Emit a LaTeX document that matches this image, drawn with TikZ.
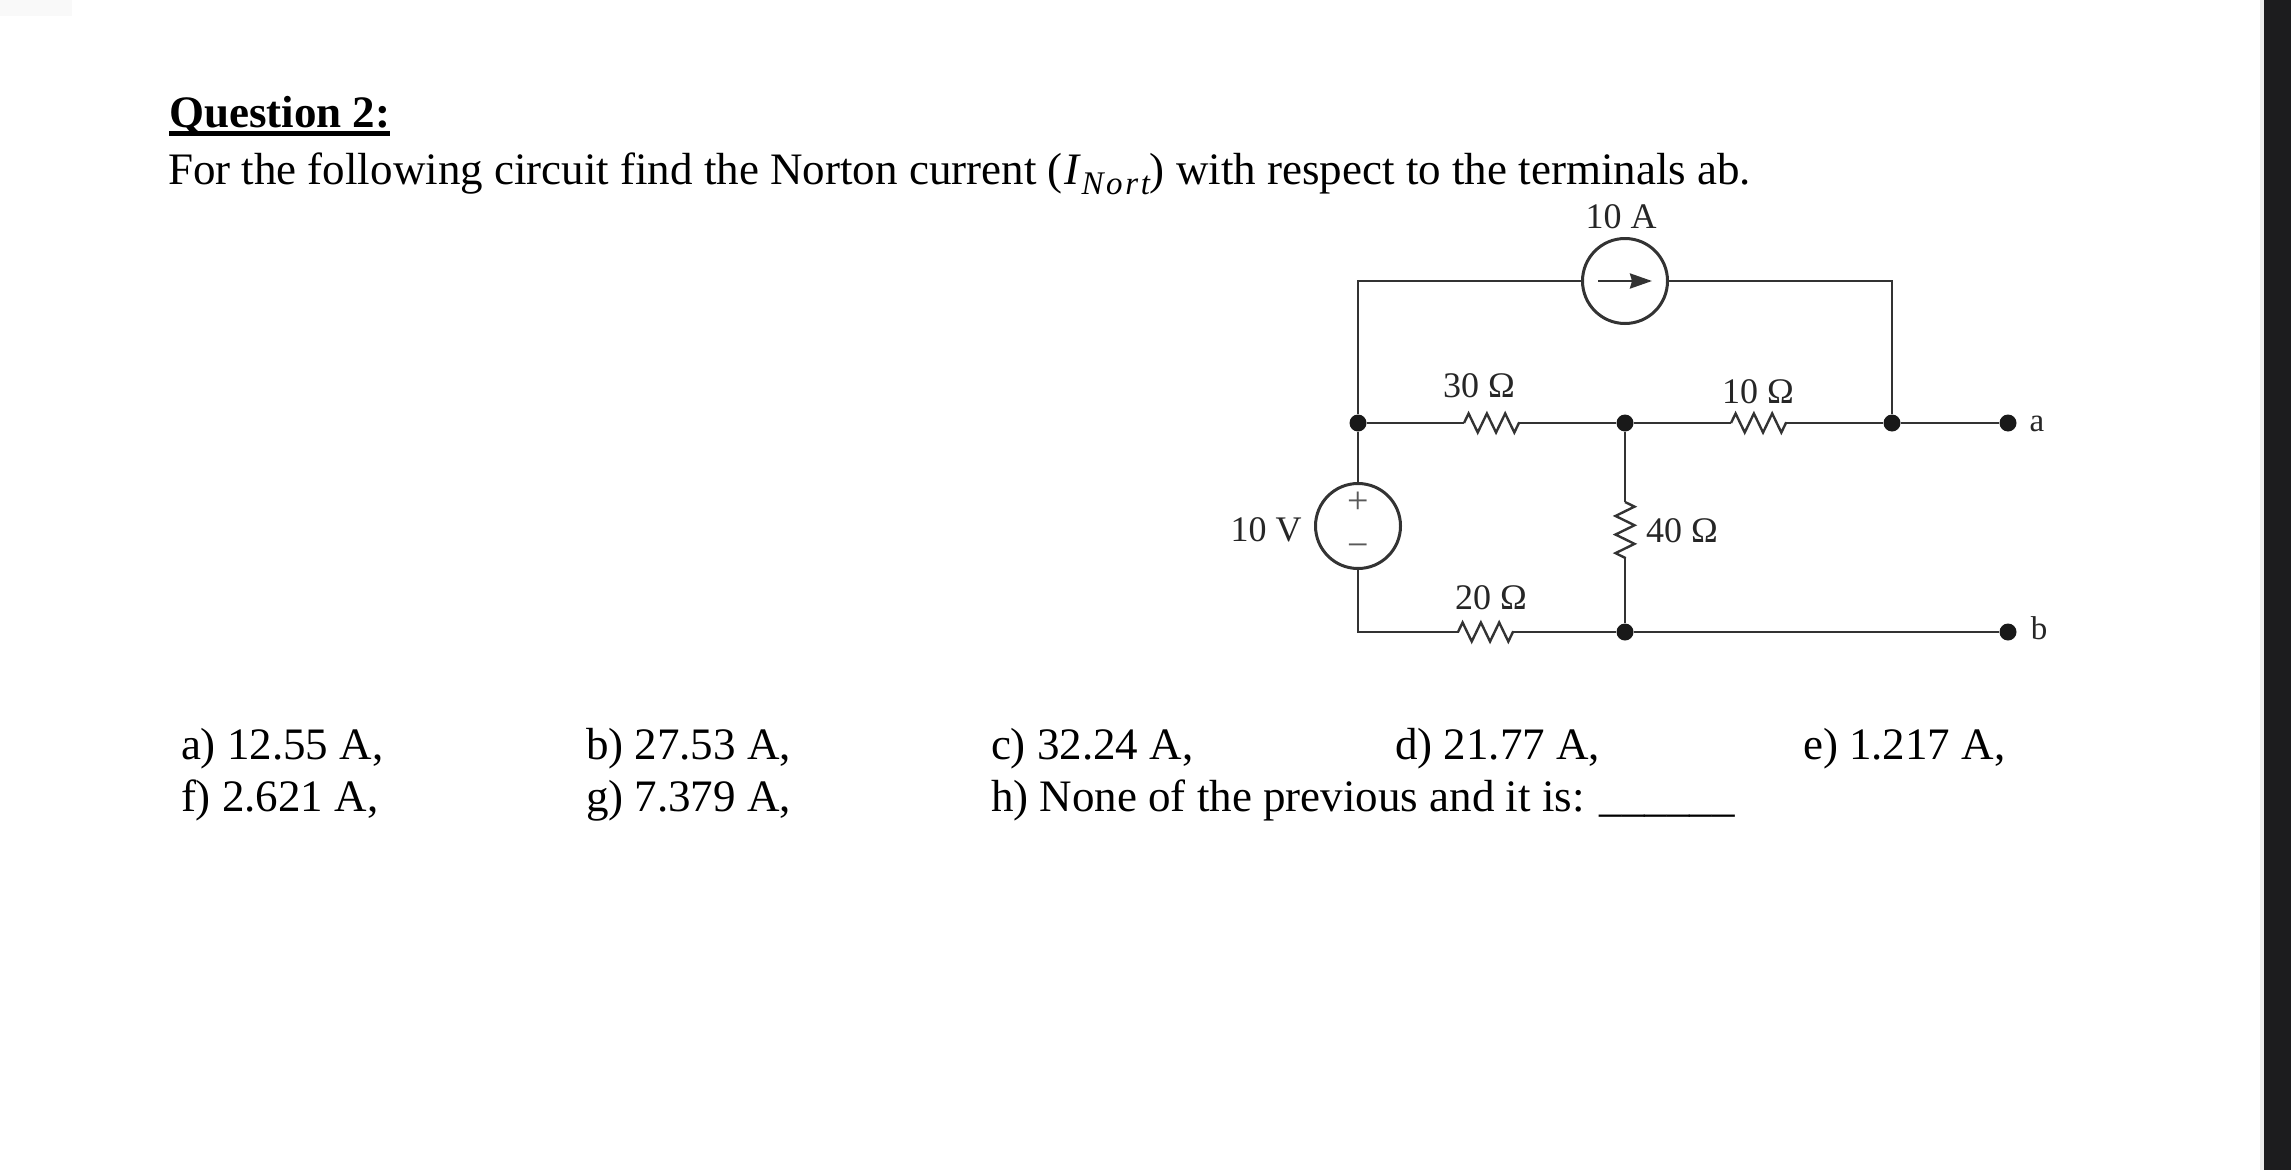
\documentclass[tikz,border=0pt]{standalone}
\usepackage{fontspec}
\setmainfont{Liberation Serif}
\newfontfamily\subfont[LetterSpace=8]{Liberation Serif}
\usetikzlibrary{arrows.meta,decorations.pathmorphing}
\definecolor{wire}{HTML}{333333}
\definecolor{band}{HTML}{1C1C1E}
\newcommand{\fs}[1]{\fontsize{#1}{#1}\selectfont}
\tikzset{
  x=1pt,y=-1pt,
  txt/.style={inner sep=0,outer sep=0,anchor=base west,text=black,font=\fs{45}},
  lab/.style={inner sep=0,outer sep=0,anchor=center,text=black!85,font=\fs{36}},
  wireline/.style={draw=wire,line width=2.8pt},
  thin wire/.style={draw=wire,line width=2.2pt},
  srcbox/.style={circle,draw=wire,line width=3pt,minimum size=85pt,inner sep=0,fill=white},
  dot/.style={circle,fill=black!90,minimum size=17pt,inner sep=0},
  res/.style={draw=wire,line width=2.4pt,decorate,decoration={zigzag,segment length=18.3pt,amplitude=9.5pt}},
}
\begin{document}
\begin{tikzpicture}
\useasboundingbox (0,0) rectangle (2291,1170);
\fill[white] (0,0) rectangle (2291,1170);
\fill[black!2.5] (0,0) rectangle (72,16);
\fill[black!7] (2260,0) rectangle (2264,1170);
\fill[band] (2264,0) rectangle (2291,1170);

% text
\node[txt,font=\fs{45}\bfseries] (qhead) at (169,127) {\rlap{\rule[-9pt]{221pt}{5pt}}Question 2:};
\node[txt] (qline) at (168,184.5) {For the following circuit find the Norton current (\kern2pt\textit{I}\raisebox{-10pt}{\fs{33}\subfont\itshape Nort}) with respect to the terminals ab.};
\node[txt] (oa) at (181,759.5) {a) 12.55 A,};
\node[txt] (ob) at (586,759.5) {b) 27.53 A,};
\node[txt] (oc) at (991,759.5) {c) 32.24 A,};
\node[txt] (od) at (1395,759.5) {d) 21.77 A,};
\node[txt] (oe) at (1803,759.5) {e) 1.217 A,};
\node[txt] (of) at (181,811.5) {f) 2.621 A,};
\node[txt] (og) at (586,811.5) {g) 7.379 A,};
\node[txt] (oh) at (991,811.5) {h) None of the previous and it is: \_\_\_\_\_\_};

% junctions and terminals
\node[dot] (nl) at (1358,423) {};
\node[dot] (nc) at (1625,423) {};
\node[dot] (nr) at (1892,423) {};
\node[dot] (ta) at (2008,423) {};
\node[dot] (nb) at (1625,632) {};
\node[dot] (tb) at (2008,632) {};
\coordinate (tl) at (1358,281);
\coordinate (tr) at (1892,281);
\coordinate (bl) at (1358,632);
% sources
\node[srcbox] (is) at (1625,281) {};
\node[srcbox] (vs) at (1358,526) {};
% resistor ends
\coordinate (r30a) at (1464,423); \coordinate (r30b) at (1519,423);
\coordinate (r10a) at (1731,423); \coordinate (r10b) at (1786,423);
\coordinate (r20a) at (1458,632); \coordinate (r20b) at (1513,632);
\coordinate (r40a) at (1625,502); \coordinate (r40b) at (1625,558);

% wires
\draw[wireline,line cap=rect] (is) -- (tl);
\draw[wireline,line cap=rect] (is) -- (tr);
\draw[thin wire] (tl) -- (nl);
\draw[thin wire] (tr) -- (nr);
\draw[thin wire] (nl) -- (vs);
\draw[thin wire] (vs) -- (bl);
\draw[wireline] (nl) -- (r30a);
\draw[wireline] (r30b) -- (nc);
\draw[wireline] (nc) -- (r10a);
\draw[wireline] (r10b) -- (nr);
\draw[wireline] (nr) -- (ta);
\draw[wireline,line cap=rect] (bl) -- (r20a);
\draw[wireline] (r20b) -- (nb);
\draw[wireline] (nb) -- (tb);
\draw[thin wire] (nc) -- (r40a);
\draw[thin wire] (r40b) -- (nb);
\draw[res] (r30a) -- (r30b);
\draw[res] (r10a) -- (r10b);
\draw[res] (r20a) -- (r20b);
\draw[res,decoration={segment length=18.6pt}] (r40a) -- (r40b);

% source symbols
\coordinate (ia) at (1598,281); \coordinate (ib) at (1652,281);
\draw[wireline,-{Stealth[length=22pt,width=15pt,inset=2pt]}] (ia) -- (ib);
\node[lab,font=\fs{38},text=black!65] (plus) at (1358,503) {+};
\node[lab,font=\fs{38},text=black!65] (minus) at (1358,551) {−};

% labels
\node[lab] (l10a) at (1621,217) {10 A};
\node[lab] (l30) at (1479,386) {30 Ω};
\node[lab] (l10) at (1758,392) {10 Ω};
\node[lab] (l10v) at (1266,530) {10 V};
\node[lab] (l40) at (1682,531) {40 Ω};
\node[lab] (l20) at (1491,598) {20 Ω};
\node[lab,font=\fs{33}] (la) at (2037,424) {a};
\node[lab,font=\fs{33}] (lb) at (2039,628) {b};
\end{tikzpicture}
\end{document}
